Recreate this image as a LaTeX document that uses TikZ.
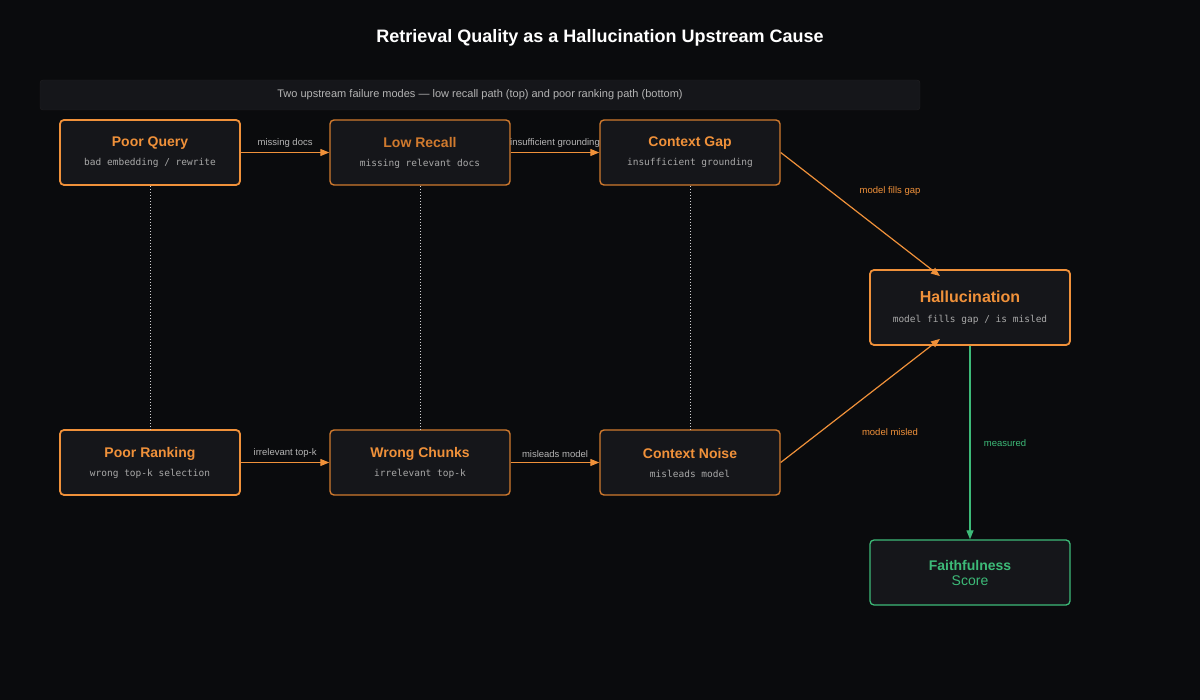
\documentclass[tikz,border=0pt]{standalone}
\usepackage{fontspec}
\setmainfont{Liberation Sans}
\newfontfamily\monof{DejaVu Sans Mono}
\usetikzlibrary{calc,arrows.meta}
\definecolor{bg}{HTML}{0A0B0D}
\definecolor{nfill}{HTML}{15161A}
\definecolor{org}{HTML}{F0913A}
\definecolor{orgd}{HTML}{D07A2E}
\definecolor{grn}{HTML}{3DBA78}
\definecolor{gtx}{HTML}{B4B4B4}
\definecolor{sub}{HTML}{A8A8A8}
\tikzset{
 x=1pt,y=-1pt,
 box/.style={draw=orgd,fill=nfill,rounded corners=4pt,line width=1.4pt,minimum width=180pt,minimum height=65pt,align=center,inner sep=0pt},
 hot/.style={draw=org,line width=1.8pt},
 ttl/.style={font=\bfseries\fontsize{14}{16}\selectfont,text=orgd},
 edge/.style={draw=org,line width=1.2pt,-{Triangle[length=9pt,width=7pt]}},
 elab/.style={font=\fontsize{9.5}{11}\selectfont,text=gtx},
 dots/.style={draw=gray!35,line width=1pt,dotted}
}
\newcommand{\bx}[2]{{\bfseries\fontsize{14}{16}\selectfont #1}\\[7pt]{\monof\fontsize{9.5}{11}\selectfont\color{sub}#2}}
\begin{document}
\begin{tikzpicture}
\fill[bg] (0,0) rectangle (1200,700);
\useasboundingbox (0,0) rectangle (1200,700);
\node[font=\bfseries\fontsize{18}{20}\selectfont,text=white] (title) at (600,38) {Retrieval Quality as a Hallucination Upstream Cause};
\node[fill=nfill,draw=gray!20!bg,rounded corners=3pt,minimum width=880pt,minimum height=30pt,font=\fontsize{11}{13}\selectfont,text=gtx] (banner) at (480,95) {Two upstream failure modes — low recall path (top) and poor ranking path (bottom)};

\node[box,hot,text=org] (pq) at (150,152.5) {\bx{Poor Query}{bad embedding / rewrite}};
\node[box,text=orgd] (lr) at (420,152.5) {\bx{Low Recall}{missing relevant docs}};
\node[box,text=org] (cg) at (690,152.5) {\bx{Context Gap}{insufficient grounding}};
\node[box,hot,text=org] (pr) at (150,462.5) {\bx{Poor Ranking}{wrong top-k selection}};
\node[box,text=org] (wc) at (420,462.5) {\bx{Wrong Chunks}{irrelevant top-k}};
\node[box,text=org] (cn) at (690,462.5) {\bx{Context Noise}{misleads model}};
\node[box,hot,minimum width=200pt,minimum height=75pt,text=org] (hal) at (970,307.5) {{\bfseries\fontsize{16}{18}\selectfont Hallucination}\\[8pt]{\monof\fontsize{9.5}{11}\selectfont\color{sub}model fills gap / is misled}};
\node[box,draw=grn,line width=1.3pt,minimum width=200pt,text=grn] (ff) at (970,572.5) {{\bfseries\fontsize{14}{16}\selectfont Faithfulness}\\[3pt]{\fontsize{14}{16}\selectfont Score}};

\draw[dots] (pq.south) -- (pr.north);
\draw[dots] (lr.south) -- (wc.north);
\draw[dots] (cg.south) -- (cn.north);

\draw[edge] (pq) -- node[elab,above=1pt] {missing docs} (lr);
\draw[edge] (lr) -- node[elab,above=1pt] {insufficient grounding} (cg);
\draw[edge] (pr) -- node[elab,above=1pt] {irrelevant top-k} (wc);
\draw[edge] (wc) -- node[elab,above=1pt] {misleads model} (cn);
\coordinate (h1) at ($(hal.north)+(-30,7)$);
\coordinate (h2) at ($(hal.south)+(-30,-7)$);
\draw[edge] (cg.east) -- (h1);
\draw[edge] (cn.east) -- (h2);
\node[elab,text=org] (l1) at (890,191) {model fills gap};
\node[elab,text=org] (l2) at (890,432) {model misled};
\draw[edge,draw=grn] (hal.south) -- node[elab,text=grn,right=10pt,pos=0.5] {measured} (ff.north);
\end{tikzpicture}
\end{document}
